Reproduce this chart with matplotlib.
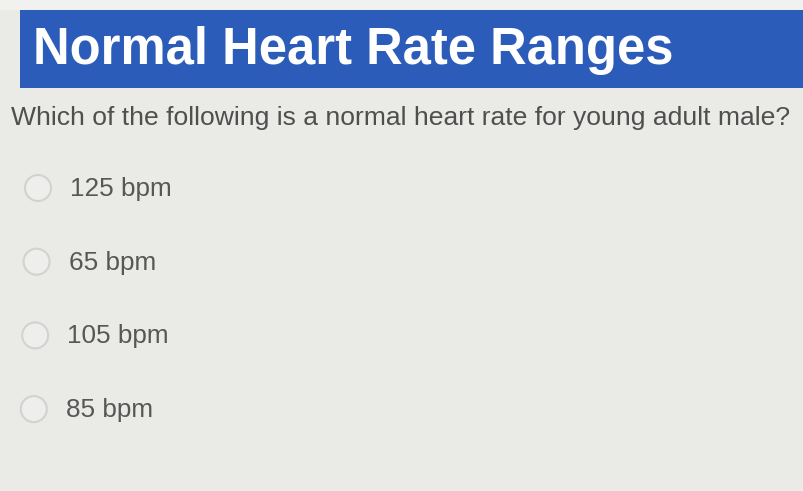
import matplotlib.pyplot as plt
from matplotlib.patches import Rectangle, Circle

title = "Normal Heart Rate Ranges"
question = "Which of the following is a normal heart rate for young adult male?"
options = ["125 bpm", "65 bpm", "105 bpm", "85 bpm"]

W, H = 804, 491
fig = plt.figure(figsize=(W / 100, H / 100), dpi=100)
ax = fig.add_axes([0, 0, 1, 1])
ax.set_xlim(0, W)
ax.set_ylim(H, 0)
ax.axis("off")
fig.patch.set_facecolor("#eaeae7")

# lighter strip above the banner
ax.add_patch(Rectangle((0, 0), W, 10, facecolor="#f1f1ef", edgecolor="none"))

# blue banner
ax.add_patch(Rectangle((20, 10), W - 20, 78, facecolor="#2b5cb9", edgecolor="none"))
ax.text(33, 50, title, color="white", fontsize=36.5, family="Liberation Sans",
        weight="bold", va="center", ha="left")

ax.text(11, 118, question, color="#4f4f4f", fontsize=19.05, family="Liberation Sans",
        va="center", ha="left")

# radio options, slight shift left going down like the photo
for i, label in enumerate(options):
    y = 188 + i * 73.7
    cx = 38 - i * 1.4
    ax.add_patch(Circle((cx, y), 13, facecolor="#eeeeec", edgecolor="#d2d2d0", lw=1.5))
    ax.text(cx + 32, y + 1, label, color="#575757", fontsize=18.8, family="Liberation Sans",
            va="center", ha="left")

fig.savefig("out.png", dpi=100, facecolor=fig.get_facecolor())
